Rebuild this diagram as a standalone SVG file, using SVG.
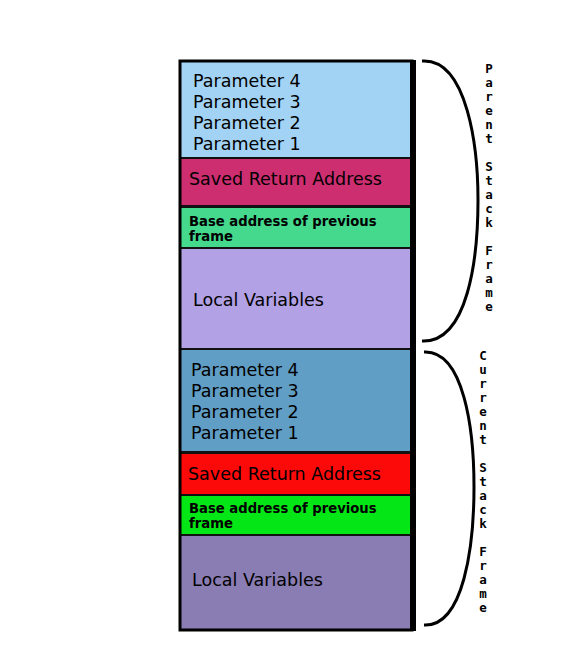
<svg xmlns="http://www.w3.org/2000/svg" width="578" height="672" viewBox="0 0 578 672">
<style>
.sec{stroke:#111;stroke-width:2}
.big{font-family:"DejaVu Sans",sans-serif;font-size:17.5px;fill:#000}
.sm{font-family:"DejaVu Sans",sans-serif;font-size:13.2px;font-weight:bold;fill:#000}
.vert{font-family:"DejaVu Sans Mono",monospace;font-size:12.5px;font-weight:bold;fill:#000;text-anchor:middle}
.brace{fill:none;stroke:#000;stroke-width:3}
</style>
<rect width="578" height="672" fill="#fff"/>
<g id="params-parent">
<rect class="sec" x="180" y="61" width="231" height="97" fill="#a3d3f4"/>
<text class="big" x="193" y="87">Parameter 4</text>
<text class="big" x="193" y="108">Parameter 3</text>
<text class="big" x="193" y="129">Parameter 2</text>
<text class="big" x="193" y="150">Parameter 1</text>
</g>
<g id="ret-parent">
<rect class="sec" x="180" y="158" width="231" height="48" fill="#cc2e70"/>
<text class="big" x="189" y="185">Saved Return Address</text>
</g>
<g id="base-parent">
<rect class="sec" x="180" y="207" width="231" height="41" fill="#44d98d"/>
<text class="sm" x="189" y="226">Base address of previous</text>
<text class="sm" x="189" y="241">frame</text>
</g>
<g id="locals-parent">
<rect class="sec" x="180" y="248" width="231" height="101" fill="#b2a1e5"/>
<text class="big" x="193" y="306">Local Variables</text>
</g>
<g id="params-current">
<rect class="sec" x="180" y="349" width="231" height="103" fill="#619ec5"/>
<text class="big" x="191" y="376">Parameter 4</text>
<text class="big" x="191" y="397">Parameter 3</text>
<text class="big" x="191" y="418">Parameter 2</text>
<text class="big" x="191" y="439">Parameter 1</text>
</g>
<g id="ret-current">
<rect class="sec" x="180" y="453" width="231" height="42" fill="#fc0a0a"/>
<text class="big" x="188" y="480">Saved Return Address</text>
</g>
<g id="base-current">
<rect class="sec" x="180" y="495" width="231" height="40" fill="#05e616"/>
<text class="sm" x="189" y="513">Base address of previous</text>
<text class="sm" x="189" y="528">frame</text>
</g>
<g id="locals-current">
<rect class="sec" x="180" y="535" width="231" height="95" fill="#8a7db4"/>
<text class="big" x="192" y="586">Local Variables</text>
</g>
<g id="frame-border">
<rect x="180" y="61" width="232" height="569" fill="none" stroke="#000" stroke-width="3"/>
<line x1="413" y1="60" x2="413" y2="631" stroke="#000" stroke-width="6"/>
</g>
<g id="connectors">
<path class="brace" d="M422,61 C468,58 478,150 478,200 C478,258 468,343 422,341"/>
<path class="brace" d="M424,352 C464,350 474,430 474,487 C474,545 464,627 424,625"/>
</g>
<g id="label-parent">
<text class="vert">
<tspan x="489" y="73">P</tspan><tspan x="489" y="87">a</tspan><tspan x="489" y="101">r</tspan><tspan x="489" y="115">e</tspan><tspan x="489" y="129">n</tspan><tspan x="489" y="143">t</tspan><tspan x="489" y="171">S</tspan><tspan x="489" y="185">t</tspan><tspan x="489" y="199">a</tspan><tspan x="489" y="213">c</tspan><tspan x="489" y="227">k</tspan><tspan x="489" y="255">F</tspan><tspan x="489" y="269">r</tspan><tspan x="489" y="283">a</tspan><tspan x="489" y="297">m</tspan><tspan x="489" y="311">e</tspan>
</text>
</g>
<g id="label-current">
<text class="vert">
<tspan x="483" y="360">C</tspan><tspan x="483" y="374">u</tspan><tspan x="483" y="388">r</tspan><tspan x="483" y="402">r</tspan><tspan x="483" y="416">e</tspan><tspan x="483" y="430">n</tspan><tspan x="483" y="444">t</tspan><tspan x="483" y="472">S</tspan><tspan x="483" y="486">t</tspan><tspan x="483" y="500">a</tspan><tspan x="483" y="514">c</tspan><tspan x="483" y="528">k</tspan><tspan x="483" y="556">F</tspan><tspan x="483" y="570">r</tspan><tspan x="483" y="584">a</tspan><tspan x="483" y="598">m</tspan><tspan x="483" y="612">e</tspan>
</text>
</g>
</svg>
